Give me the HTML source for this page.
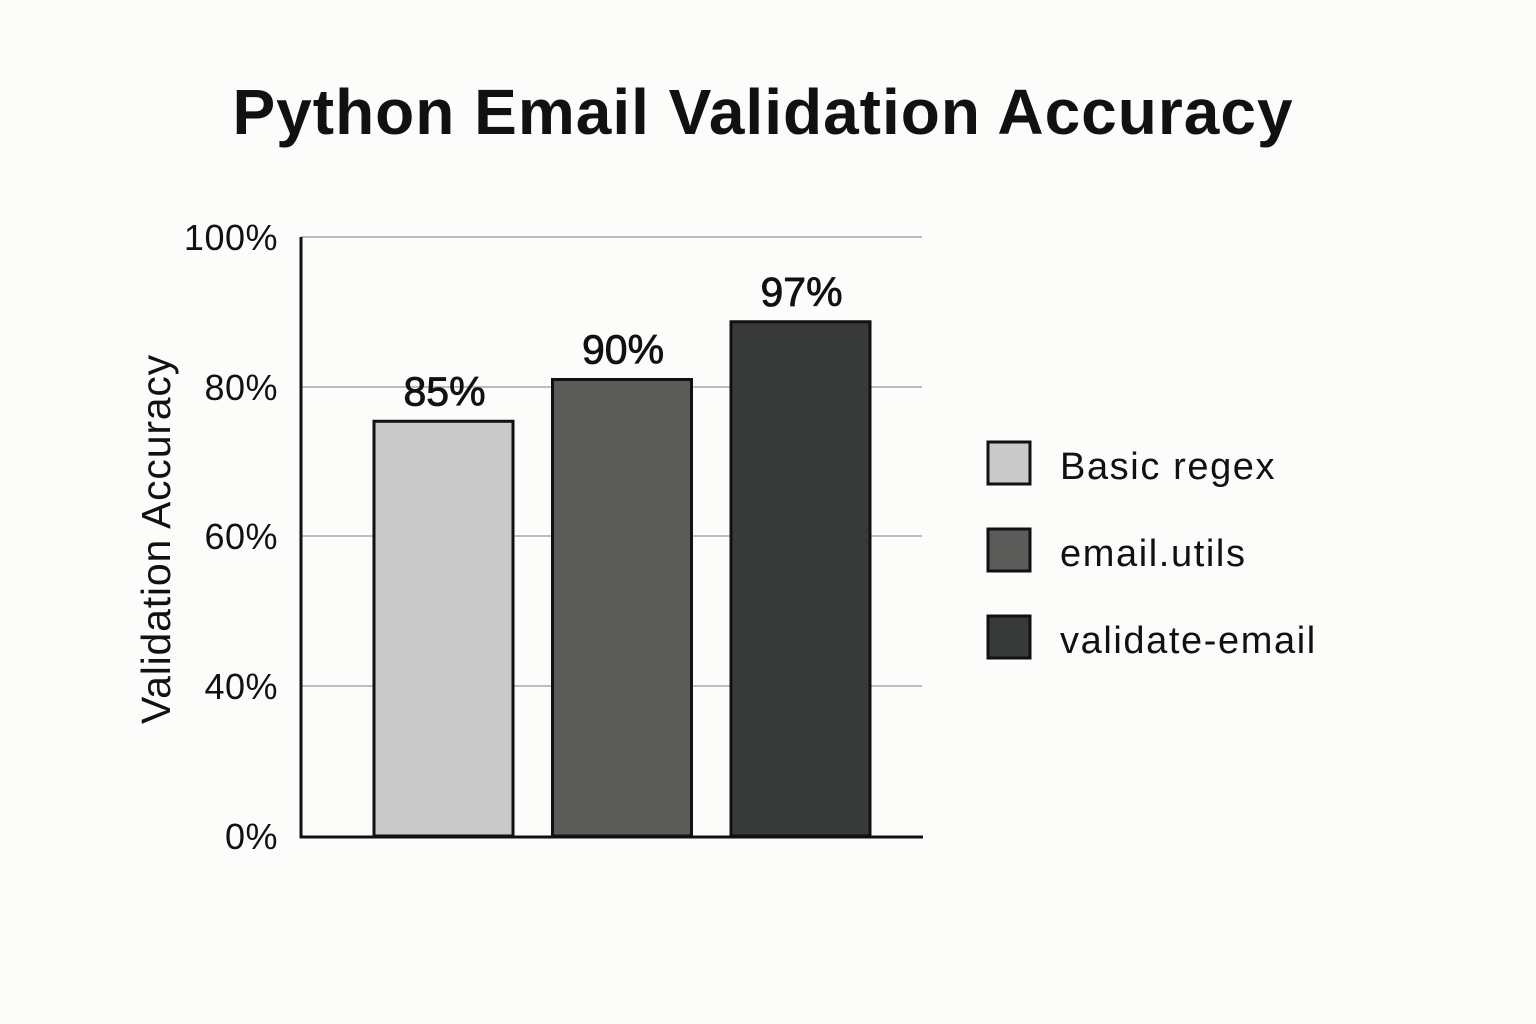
<!DOCTYPE html>
<html><head><meta charset="utf-8"><style>
html,body{margin:0;padding:0;background:#fcfcfa;}
svg{display:block;font-family:"Liberation Sans",sans-serif;}
</style></head><body>
<svg id="chart" width="1536" height="1024" viewBox="0 0 1536 1024">
<rect width="1536" height="1024" fill="#fcfcfa"/>
<text x="763" y="134" text-anchor="middle" font-size="64" font-weight="bold" letter-spacing="1" fill="#111">Python Email Validation Accuracy</text>
<text transform="translate(170,539) rotate(-90)" text-anchor="middle" font-size="41" letter-spacing="0.8" fill="#111">Validation Accuracy</text>
<g id="grid"></g><g id="bars"></g><g id="axes"></g><g id="legend"></g>
</svg>
<script>
const categories = ["Basic regex","email.utils","validate-email"];
const values = [75.4, 81, 88.7];
const valueLabels = ["85%","90%","97%"];
const tickValues = [0,40,60,80,100];
const tickLabels = ["0%","40%","60%","80%","100%"];
const colors = ["#c9c9c9","#5b5c5a","#383a39"];
const NS="http://www.w3.org/2000/svg";
const tickPx=[836,686,536,387,237];
function y(v){
  for(let i=0;i<tickValues.length-1;i++){
    if(v<=tickValues[i+1]||i===tickValues.length-2){
      const t=(v-tickValues[i])/(tickValues[i+1]-tickValues[i]);
      return tickPx[i]+t*(tickPx[i+1]-tickPx[i]);
    }
  }
}
function x(i){return 374+i*178.5;}
const bw=139;
function mk(tag,attrs,parent){const e=document.createElementNS(NS,tag);for(const k in attrs)e.setAttribute(k,attrs[k]);document.getElementById(parent).appendChild(e);return e;}
tickValues.forEach((v,i)=>{
  if(v>0){const g=mk("line",{x1:301,x2:922,y1:y(v),y2:y(v),stroke:"#bdbdbd","stroke-width":2},"grid");
  
  }
  const t=mk("text",{x:278,y:y(v)+13,"text-anchor":"end","font-size":36,"letter-spacing":0.5,fill:"#111"},"axes");
  t.textContent=tickLabels[i];
  
  
});
values.forEach((v,i)=>{
  const r=mk("rect",{x:x(i),y:y(v),width:bw,height:y(0)-y(v),fill:colors[i],stroke:"#111","stroke-width":3},"bars");
  
  
  const t=mk("text",{x:x(i)+bw/2+1,y:y(v)-16,"text-anchor":"middle","font-size":41,fill:"#111",stroke:"#111","stroke-width":0.8},"bars");
  t.textContent=valueLabels[i];
  
  
  const s=mk("rect",{x:988,y:442+i*87,width:42,height:42,fill:colors[i],stroke:"#111","stroke-width":3},"legend");
  
  
  const lt=mk("text",{x:1060,y:479+i*87,"font-size":38,"letter-spacing":1.6,fill:"#111"},"legend");
  lt.textContent=categories[i];
  
  
});
const ya=mk("line",{x1:301,x2:301,y1:237,y2:838,stroke:"#111","stroke-width":3},"axes");


const xa=mk("line",{x1:300,x2:923,y1:837,y2:837,stroke:"#111","stroke-width":3},"axes");


</script>
</body></html>
